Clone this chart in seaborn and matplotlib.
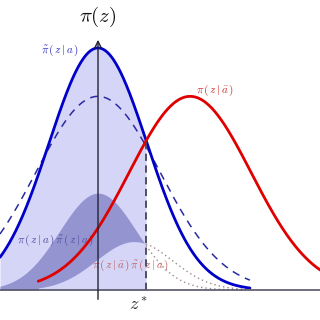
import numpy as np
import pandas as pd
import matplotlib
matplotlib.use("Agg")
import matplotlib.pyplot as plt
import seaborn as sns

# ---- values (z in units of the solid curve's sd) ----
curve_names = ["pi_tilde_a", "pi_a", "pi_abar"]
curve_means = [0.0, 0.0, 1.88]
curve_sds = [1.0, 1.27, 1.245]
curve_peaks = [1.0, 0.80, 0.80]
curve_ranges = [(-2.0, 3.1), (-2.0, 3.1), (-1.22, 4.6)]
product_scale = 0.5
z_star = 0.98
label_texts = [r"$\pi(z)$", r"$\tilde{\pi}\,(\,z\,|\,a\,)$", r"$\pi\,(\,z\,|\,\bar{a}\,)$",
               r"$\pi\,(\,z\,|\,a\,)\,\tilde{\pi}\,(\,z\,|\,a\,)$",
               r"$\pi\,(\,z\,|\,\bar{a}\,)\,\tilde{\pi}\,(\,z\,|\,a\,)$",
               r"$z^*$"]

sns.set_theme(style="white")
plt.rcParams["mathtext.fontset"] = "cm"


def curve(i, z):
    return curve_peaks[i] * np.exp(-(z - curve_means[i]) ** 2 / (2 * curve_sds[i] ** 2))


fig = plt.figure(figsize=(3.2, 3.2), dpi=100)
ax = fig.add_axes([0, 0, 1, 1])
xmin, xmax = -2.0, 4.53
ymin, ymax = -0.124, 1.198
ax.set_xlim(xmin, xmax)
ax.set_ylim(ymin, ymax)
ax.axis("off")

frames = []
for i, name in enumerate(curve_names):
    z = np.linspace(*curve_ranges[i], 400)
    frames.append(pd.DataFrame({"z": z, "y": curve(i, z), "curve": name}))
df = pd.concat(frames)

# fills
zl = np.linspace(-2.0, z_star, 400)
solid = curve(0, zl)
upper = curve(1, zl) * solid * product_scale
lower = np.where(zl >= curve_ranges[2][0], curve(2, zl) * solid * product_scale, 0.0)
ax.fill_between(zl, 0, solid, color="#D5D5F8", lw=0, zorder=1)
ax.fill_between(zl, lower, upper, color="#9494D0", lw=0, zorder=2)

# dotted continuations beyond z*
zr = np.linspace(z_star, 3.1, 200)
ax.plot(zr, curve(1, zr) * curve(0, zr) * product_scale, ls=(0, (1, 2.2)), color="#a08890", lw=1.0, zorder=3)
ax.plot(zr, curve(2, zr) * curve(0, zr) * product_scale, ls=(0, (1, 2.2)), color="#a08890", lw=1.0, zorder=3)

# main curves
sns.lineplot(data=df[df.curve == "pi_a"], x="z", y="y", ax=ax, color="#2a2aa0",
             lw=1.1, linestyle=(0, (5, 4)), sort=False, zorder=4)
sns.lineplot(data=df[df.curve == "pi_tilde_a"], x="z", y="y", ax=ax, color="#0000C8",
             lw=2.0, sort=False, zorder=5)
sns.lineplot(data=df[df.curve == "pi_abar"], x="z", y="y", ax=ax, color="#E00000",
             lw=2.0, sort=False, zorder=5)

# z* line
ax.plot([z_star, z_star], [0, curve(0, np.array(z_star))], color="#444455",
        lw=1.3, ls=(0, (4, 2.5)), zorder=6)

# axes
ax.plot([xmin, xmax], [0, 0], color="#555566", lw=1.2, zorder=6)
ax.annotate("", xy=(0, 1.045), xytext=(0, -0.05),
            arrowprops=dict(arrowstyle="->", color="#222233", lw=1.0), zorder=6)

# labels
ax.text(0, 1.13, label_texts[0], fontsize=15, ha="center", va="center", color="#111111")
ax.text(-0.78, 0.99, label_texts[1], fontsize=8, ha="center", va="center", color="#3030c0")
ax.text(2.38, 0.826, label_texts[2], fontsize=8, ha="center", va="center", color="#d03030")
ax.text(-0.86, 0.205, label_texts[3], fontsize=8, ha="center", va="center", color="#5050a0")
ax.text(0.67, 0.102, label_texts[4], fontsize=8, ha="center", va="center", color="#c06060")
ax.text(0.83, -0.065, label_texts[5], fontsize=13, ha="center", va="center", color="#222222")

fig.savefig("out.png", dpi=100)
